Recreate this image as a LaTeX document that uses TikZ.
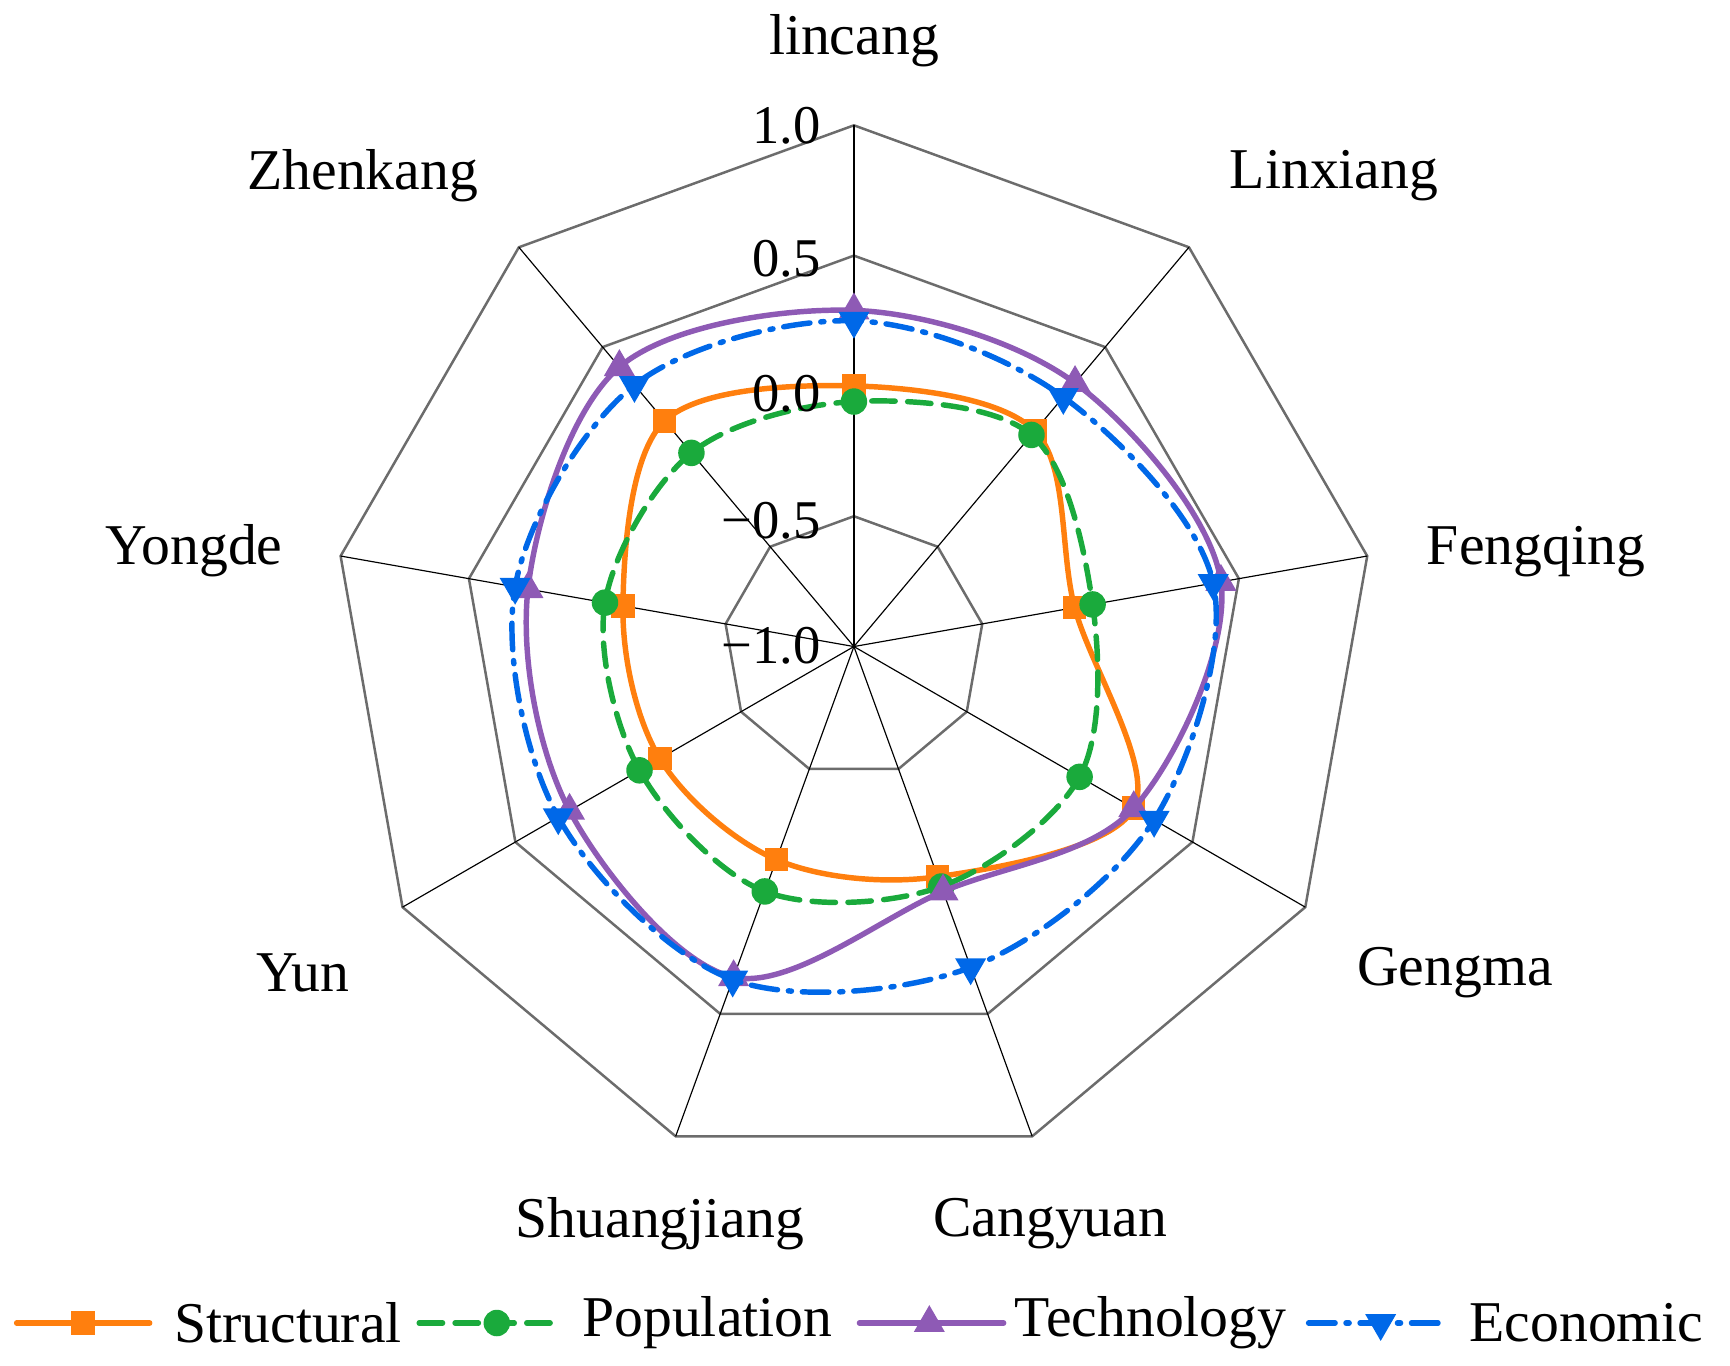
\documentclass[tikz,border=0pt]{standalone}
\usepackage{fontspec}
\setmainfont{Liberation Serif}
\usetikzlibrary{shapes.geometric}
\definecolor{cS}{HTML}{FF7F0E}
\definecolor{cP}{HTML}{1AAA3C}
\definecolor{cT}{HTML}{8E5AB5}
\definecolor{cE}{HTML}{0068E8}
\tikzset{
 lab/.style={font=\fontsize{74}{78}\selectfont,inner sep=0},
 tick/.style={font=\fontsize{70}{74}\selectfont,inner sep=0,anchor=east},
 ser/.style={line width=7pt,line join=round,line cap=round},
 dsh/.style={dash pattern=on 30pt off 16pt},
 ddt/.style={dash pattern=on 34pt off 14pt on 4pt off 14pt},
 msq/.style={rectangle,fill=#1,minimum size=30pt,inner sep=0},
 mci/.style={circle,fill=#1,minimum size=34pt,inner sep=0},
 mtu/.style={regular polygon,regular polygon sides=3,fill=#1,minimum size=46pt,inner sep=0},
 mtd/.style={regular polygon,regular polygon sides=3,shape border rotate=180,fill=#1,minimum size=46pt,inner sep=0},
 ring/.style={draw=gray!85!black,line width=3.2pt},
 spoke/.style={draw=black,line width=1.5pt}
}
\begin{document}
\begin{tikzpicture}[x=0.05cm,y=0.05cm]
\useasboundingbox (0,0) rectangle (1560,-1231);
\begin{scope}[shift={(770,-583)}]
\foreach \rr in {117.5,352.5,470}
  \draw[ring] (90:\rr) \foreach \k in {1,...,8} {-- ({90-40*\k}:\rr)} -- cycle;
\foreach \k in {0,...,8} \draw[spoke] (0,0) -- ({90-40*\k}:470) coordinate (ax\k);
% Structural
\draw[ser,cS] plot[smooth cycle,tension=0.55] coordinates {(90:{235*1.0}) (50:{235*1.08}) (10:{235*0.86}) (-30:{235*1.24}) (-70:{235*0.94}) (-110:{235*0.87}) (-150:{235*0.86}) (170:{235*0.9}) (130:{235*1.13})};
\foreach \v [count=\i] in {1.0,1.08,0.86,1.24,0.94,0.87,0.86,0.9,1.13} \node[msq=cS] (s\i) at ({90-40*(\i-1)}:{235*\v}) {};
% Population
\draw[ser,cP,dsh] plot[smooth cycle,tension=0.55] coordinates {(90:{235*0.94}) (50:{235*1.06}) (10:{235*0.93}) (-30:{235*1.0}) (-70:{235*0.98}) (-110:{235*1.0}) (-150:{235*0.95}) (170:{235*0.97}) (130:{235*0.97})};
\foreach \v [count=\i] in {0.94,1.06,0.93,1.0,0.98,1.0,0.95,0.97,0.97} \node[mci=cP] (p\i) at ({90-40*(\i-1)}:{235*\v}) {};
% Technology
\draw[ser,cT] plot[smooth cycle,tension=0.55] coordinates {(90:{235*1.29}) (50:{235*1.32}) (10:{235*1.43}) (-30:{235*1.24}) (-70:{235*1.0}) (-110:{235*1.35}) (-150:{235*1.26}) (170:{235*1.27}) (130:{235*1.40})};
\foreach \v [count=\i] in {1.29,1.32,1.43,1.24,1.0,1.35,1.26,1.27,1.40} \node[mtu=cT] (t\i) at ({90-40*(\i-1)}:{235*\v}) {};
% Economic
\draw[ser,cE,ddt] plot[smooth cycle,tension=0.55] coordinates {(90:{235*1.25}) (50:{235*1.25}) (10:{235*1.40}) (-30:{235*1.33}) (-70:{235*1.31}) (-110:{235*1.36}) (-150:{235*1.31}) (170:{235*1.32}) (130:{235*1.31})};
\foreach \v [count=\i] in {1.25,1.25,1.40,1.33,1.31,1.36,1.31,1.32,1.31} \node[mtd=cE] (e\i) at ({90-40*(\i-1)}:{235*\v}) {};
\end{scope}
% tick labels
\node[tick] (k1) at (740,-113) {1.0};
\node[tick] (k2) at (740,-233) {0.5};
\node[tick] (k3) at (740,-355) {0.0};
\node[tick] (k4) at (740,-470) {−0.5};
\node[tick] (k5) at (740,-582) {−1.0};
% axis labels
\node[lab] (l1) at (770,-37) {lincang};
\node[lab] (l2) at (1203,-158) {Linxiang};
\node[lab] (l3) at (1385,-497) {Fengqing};
\node[lab] (l4) at (1312,-877) {Gengma};
\node[lab] (l5) at (947,-1103) {Cangyuan};
\node[lab] (l6) at (595,-1103) {Shuangjiang};
\node[lab] (l7) at (273,-877) {Yun};
\node[lab] (l8) at (175,-497) {Yongde};
\node[lab] (l9) at (327,-158) {Zhenkang};
% legend
\coordinate (a1) at (15,-1193); \coordinate (b1) at (135,-1193);
\draw[ser,cS] (a1) -- (b1); \node[msq=cS] (g1) at (75,-1193) {};
\node[lab,anchor=west] (n1) at (157,-1193) {Structural};
\coordinate (a2) at (378,-1193); \coordinate (b2) at (500,-1193);
\draw[ser,cP,dsh] (a2) -- (b2); \node[mci=cP] (g2) at (448,-1193) {};
\node[lab,anchor=west] (n2) at (525,-1193) {Population};
\coordinate (a3) at (775,-1193); \coordinate (b3) at (905,-1193);
\draw[ser,cT] (a3) -- (b3); \node[mtu=cT] (g3) at (838,-1193) {};
\node[lab,anchor=west] (n3) at (915,-1193) {Technology};
\coordinate (a4) at (1180,-1193); \coordinate (b4) at (1300,-1193);
\draw[ser,cE,ddt] (a4) -- (b4); \node[mtd=cE] (g4) at (1245,-1193) {};
\node[lab,anchor=west] (n4) at (1325,-1193) {Economic};
\end{tikzpicture}
\end{document}
